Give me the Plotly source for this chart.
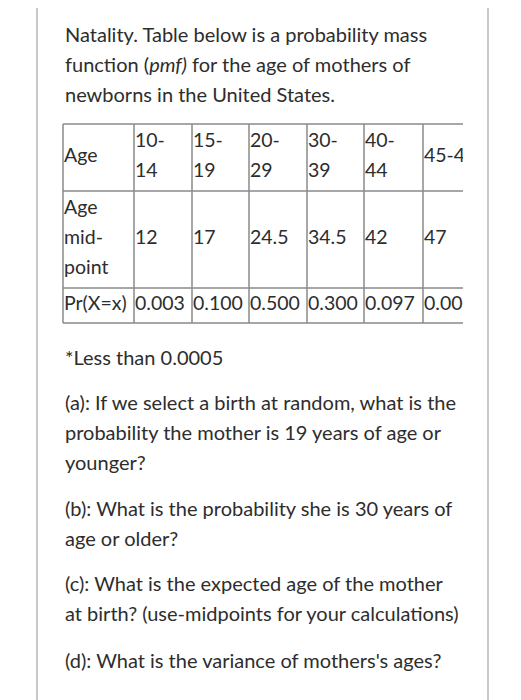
import plotly.graph_objects as go

intro = ["Natality. Table below is a probability mass",
         "function (<i>pmf)</i> for the age of mothers of",
         "newborns in the United States."]
age_groups = [["10-", "14"], ["15-", "19"], ["20-", "29"], ["30-", "39"], ["40-", "44"], ["45-49"]]
midpoints = ["12", "17", "24.5", "34.5", "42", "47"]
probs = ["0.003", "0.100", "0.500", "0.300", "0.097", "0.003"]
row_heads = [["Age"], ["Age", "mid-", "point"], ["Pr(X=x)"]]
footnote = "*Less than 0.0005"
questions = [
    ["(a): If we select a birth at random, what is the",
     "probability the mother is 19 years of age or",
     "younger?"],
    ["(b): What is the probability she is 30 years of",
     "age or older?"],
    ["(c): What is the expected age of the mother",
     "at birth? (use-midpoints for your calculations)"],
    ["(d): What is the variance of mothers's ages?"],
]

W, H = 521, 700
OFF = 8  # page body margin
TXT = "#2d2d2d"
FONT = "Lato"
col_x = [63, 134, 192, 249, 307, 364, 423, 500]
row_y = [124, 191, 288, 323]
line_h = 30
CLIP = 463

fig = go.Figure()

# table cells (clipped at the right edge like the reference)
xs, ys, ts = [], [], []
def cell(col, row, lines):
    n = len(lines)
    mid = (row_y[row] + row_y[row + 1]) / 2
    for i, t in enumerate(lines):
        xs.append(col_x[col] + 1)
        ys.append(mid + (i - (n - 1) / 2) * line_h)
        ts.append(t)

for r, h in enumerate(row_heads):
    cell(0, r, h)
for c in range(len(age_groups)):
    cell(c + 1, 0, age_groups[c])
    cell(c + 1, 1, [midpoints[c]])
    cell(c + 1, 2, [probs[c]])

fig.add_trace(go.Scatter(x=xs, y=ys, text=ts, mode="text", textposition="middle right",
                         textfont=dict(family=FONT, size=19.5, color=TXT),
                         xaxis="x2", yaxis="y", cliponaxis=True, hoverinfo="skip"))

# grid lines
gx, gy = [], []
for x in col_x:
    gx += [x, x, None]; gy += [row_y[0], row_y[-1], None]
for y in row_y:
    gx += [col_x[0], col_x[-1], None]; gy += [y, y, None]
fig.add_trace(go.Scatter(x=gx, y=gy, mode="lines", line=dict(color="#8a8a8a", width=1.5),
                         xaxis="x2", yaxis="y", hoverinfo="skip"))

# paragraphs
def para(lines, y0):
    for i, t in enumerate(lines):
        fig.add_annotation(x=col_x[0], y=y0 + i * line_h, text=t, xref="x", yref="y",
                           xanchor="left", yanchor="middle", showarrow=False,
                           font=dict(family=FONT, size=20, color=TXT))

para(intro, 34)
para([footnote], 357)
for q, y0 in zip(questions, [402, 508, 583, 660]):
    para(q, y0)

# side frame
for x in [37, 488]:
    fig.add_shape(type="line", x0=x, x1=x, y0=0, y1=H + OFF, xref="x", yref="y",
                  line=dict(color="#c8c8c8", width=2))

fig.update_layout(
    width=W, height=H, margin=dict(l=0, r=0, t=0, b=0),
    paper_bgcolor="white", plot_bgcolor="rgba(0,0,0,0)", showlegend=False,
    xaxis=dict(range=[OFF, W + OFF], domain=[0, 1], visible=False, fixedrange=True),
    xaxis2=dict(range=[OFF, CLIP], domain=[0, (CLIP - OFF) / W], visible=False,
                fixedrange=True, anchor="y"),
    yaxis=dict(range=[H + OFF, OFF], domain=[0, 1], visible=False, fixedrange=True),
)

fig.write_html("out.html")
